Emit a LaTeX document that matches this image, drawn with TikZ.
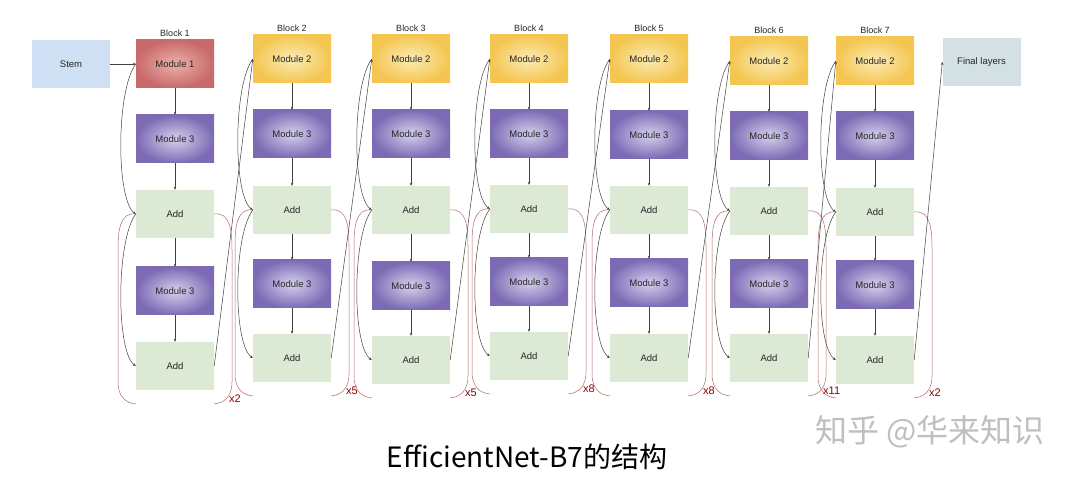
\documentclass[tikz,border=0pt]{standalone}
\usepackage{fontspec}
\setmainfont{Liberation Sans}
\newfontfamily\cjk{Noto Sans CJK SC}
\usetikzlibrary{arrows.meta}
\definecolor{addg}{HTML}{DCEAD5}
\definecolor{stemb}{HTML}{CFE0F5}
\definecolor{finalg}{HTML}{D3E0E4}
\definecolor{redo}{HTML}{C96A6A}
\definecolor{redi}{HTML}{EBB0A8}
\definecolor{yelo}{HTML}{F4C651}
\definecolor{yeli}{HTML}{FBEBB5}
\definecolor{puro}{HTML}{7C6BB4}
\definecolor{puri}{HTML}{D6D0EE}
\definecolor{bracec}{HTML}{B86A6A}
\begin{document}
\begin{tikzpicture}[x=1pt,y=-1pt,
  box/.style={minimum width=78pt,minimum height=48pt,inner sep=0pt,font=\fontsize{9.5}{11}\selectfont,text=black!85},
  mone/.style={box,inner color=redi,outer color=redo},
  mtwo/.style={box,inner color=yeli,outer color=yelo},
  mthree/.style={box,inner color=puri,outer color=puro},
  addbox/.style={box,fill=addg},
  conn/.style={draw=black!75,line width=0.5pt,-{Stealth[length=3pt,width=2.5pt]}},
  brace/.style={draw=bracec,line width=0.5pt},
  rep/.style={text=red!55!black,font=\fontsize{11}{12}\selectfont,inner sep=0pt}]
\useasboundingbox (0,0) rectangle (1074,478);
\fill[white] (0,0) rectangle (1074,478);
\node[box,fill=stemb] (stem) at (71,64) {Stem};
\node[box,fill=finalg] (final) at (981.5,62) {Final layers};
\foreach \n/\xl/\ya/\yb/\yc/\yd/\ye/\rp in {
  1/136/40/115/190/267/342/x2,
  2/253/35/110/186/260/334/x5,
  3/372/35/110/186/262/336/x5,
  4/490/35/110/185/258/332/x8,
  5/610/35/111/186/259/334/x8,
  6/730/37/112/187/260/334/x11,
  7/836/37/112/188/261/336/x2}{
  \ifnum\n=1
    \node[mone] (b\n top) at (\xl+39,\ya+24) {Module 1};
  \else
    \node[mtwo] (b\n top) at (\xl+39,\ya+24) {Module 2};
  \fi
  \node[font=\fontsize{9}{10}\selectfont,text=black!85] (b\n lab) at (\xl+39,\ya-7) {Block \n};
  \node[mthree] (b\n ma) at (\xl+39,\yb+24) {Module 3};
  \node[addbox] (b\n adda) at (\xl+39,\yc+24) {Add};
  \node[mthree] (b\n mb) at (\xl+39,\yd+24) {Module 3};
  \node[addbox] (b\n addb) at (\xl+39,\ye+24) {Add};
  \draw[conn] (b\n top) -- (b\n ma);
  \draw[conn] (b\n ma) -- (b\n adda);
  \draw[conn] (b\n adda) -- (b\n mb);
  \draw[conn] (b\n mb) -- (b\n addb);
  \draw[conn] (b\n top.west) .. controls (\xl-20,\ya+50) and (\xl-20,\yc+10) .. (b\n adda.west);
  \draw[conn] (b\n adda.west) .. controls (\xl-20,\yc+50) and (\xl-20,\ye+10) .. (b\n addb.west);
  \draw[brace] (b\n adda.west) .. controls (\xl-16,\yc+22) and (\xl-18,\yc+40) .. (\xl-18,\yc+60)
     -- (\xl-18,\ye+40) .. controls (\xl-18,\ye+55) and (\xl-10,\ye+61) .. (\xl,\ye+62);
  \draw[brace] (b\n adda.east) .. controls (\xl+94,\yc+22) and (\xl+96,\yc+40) .. (\xl+96,\yc+60)
     -- (\xl+96,\ye+40) .. controls (\xl+96,\ye+55) and (\xl+88,\ye+61) .. (\xl+78,\ye+62);
  \node[rep,anchor=west] (r\n) at (\xl+93,\ye+57) {\rp};
}
\draw[conn] (stem) -- (b1top);
\foreach \a/\b in {1/2,2/3,3/4,4/5,5/6,6/7}{
  \draw[conn] (b\a addb.east) -- (b\b top.west);
}
\draw[conn] (b7addb.east) -- (final.west);
\node[font=\cjk\fontsize{32}{36}\selectfont,text=black!25] (wm) at (930,432) {知乎 @华来知识};
\node[font=\cjk\fontsize{28}{32}\selectfont] (title) at (527,457) {EfficientNet-B7的结构};
\end{tikzpicture}
\end{document}
